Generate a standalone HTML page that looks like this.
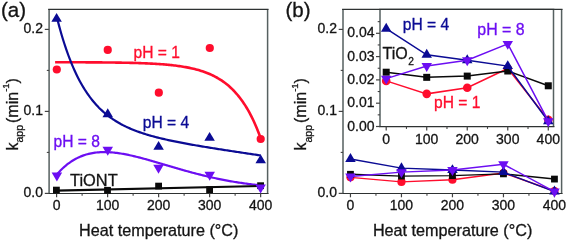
<!DOCTYPE html>
<html><head><meta charset="utf-8"><style>
html,body{margin:0;padding:0;background:#fff;width:567px;height:241px;overflow:hidden}
svg{display:block;will-change:transform}
text{font-family:"Liberation Sans", sans-serif;stroke-width:0.3px}
</style></head><body>
<svg width="567" height="241" viewBox="0 0 567 241">
<path d="M49.1,8.9 V194 M267.6,8.9 V194" stroke="#566060" stroke-width="1.5" fill="none"/>
<path d="M48.2,9.4 H268.5 M48.2,193.5 H268.5" stroke="#2e3232" stroke-width="1.2" fill="none"/>
<line x1="44.800000000000004" y1="193.4" x2="49.1" y2="193.4" stroke="#424242" stroke-width="1.2"/>
<text x="43" y="197.4" font-size="14" text-anchor="end" fill="#141414" stroke="#141414" >0.0</text>
<line x1="44.800000000000004" y1="111.4" x2="49.1" y2="111.4" stroke="#424242" stroke-width="1.2"/>
<text x="43" y="115.4" font-size="14" text-anchor="end" fill="#141414" stroke="#141414" >0.1</text>
<line x1="44.800000000000004" y1="29.4" x2="49.1" y2="29.4" stroke="#424242" stroke-width="1.2"/>
<text x="43" y="33.4" font-size="14" text-anchor="end" fill="#141414" stroke="#141414" >0.2</text>
<line x1="46.800000000000004" y1="152.4" x2="49.1" y2="152.4" stroke="#424242" stroke-width="1.1"/>
<line x1="46.800000000000004" y1="70.4" x2="49.1" y2="70.4" stroke="#424242" stroke-width="1.1"/>
<line x1="56.6" y1="193.5" x2="56.6" y2="197.3" stroke="#424242" stroke-width="1.2"/>
<text x="56.6" y="210.3" font-size="14" text-anchor="middle" fill="#141414" stroke="#141414" >0</text>
<line x1="107.61" y1="193.5" x2="107.61" y2="197.3" stroke="#424242" stroke-width="1.2"/>
<text x="107.61" y="210.3" font-size="14" text-anchor="middle" fill="#141414" stroke="#141414" >100</text>
<line x1="158.62" y1="193.5" x2="158.62" y2="197.3" stroke="#424242" stroke-width="1.2"/>
<text x="158.62" y="210.3" font-size="14" text-anchor="middle" fill="#141414" stroke="#141414" >200</text>
<line x1="209.63" y1="193.5" x2="209.63" y2="197.3" stroke="#424242" stroke-width="1.2"/>
<text x="209.63" y="210.3" font-size="14" text-anchor="middle" fill="#141414" stroke="#141414" >300</text>
<line x1="260.64" y1="193.5" x2="260.64" y2="197.3" stroke="#424242" stroke-width="1.2"/>
<text x="260.64" y="210.3" font-size="14" text-anchor="middle" fill="#141414" stroke="#141414" >400</text>
<line x1="82.11" y1="193.5" x2="82.11" y2="195.8" stroke="#424242" stroke-width="1.1"/>
<line x1="133.12" y1="193.5" x2="133.12" y2="195.8" stroke="#424242" stroke-width="1.1"/>
<line x1="184.12" y1="193.5" x2="184.12" y2="195.8" stroke="#424242" stroke-width="1.1"/>
<line x1="235.13" y1="193.5" x2="235.13" y2="195.8" stroke="#424242" stroke-width="1.1"/>
<text x="158.7" y="236.2" font-size="16.2" text-anchor="middle" fill="#141414" stroke="#141414" >Heat temperature (°C)</text>
<text x="1" y="17.2" font-size="20.5" text-anchor="start" fill="#141414" stroke="#141414" >(a)</text>
<text transform="translate(17.8,150.5) rotate(-90)" font-size="16" fill="#141414" stroke="#141414">k<tspan font-size="10.5" dy="5.5">app</tspan><tspan dy="-5.5" dx="2">(min</tspan><tspan font-size="9.5" dy="-8.5">-1</tspan><tspan dy="8.5">)</tspan></text>
<path d="M55.1,62.24 L56.39,62.24 L57.69,62.24 L58.98,62.24 L60.27,62.24 L61.57,62.25 L62.86,62.25 L64.15,62.25 L65.44,62.26 L66.74,62.26 L68.03,62.26 L69.32,62.26 L70.62,62.27 L71.91,62.27 L73.2,62.28 L74.5,62.28 L75.79,62.28 L77.08,62.29 L78.38,62.29 L79.67,62.3 L80.96,62.3 L82.25,62.31 L83.55,62.31 L84.84,62.32 L86.13,62.33 L87.43,62.33 L88.72,62.34 L90.01,62.34 L91.31,62.35 L92.6,62.36 L93.89,62.37 L95.19,62.38 L96.48,62.39 L97.77,62.39 L99.06,62.4 L100.36,62.41 L101.65,62.42 L102.94,62.44 L104.24,62.45 L105.53,62.46 L106.82,62.47 L108.12,62.49 L109.41,62.5 L110.7,62.52 L112,62.53 L113.29,62.55 L114.58,62.56 L115.87,62.58 L117.17,62.6 L118.46,62.62 L119.75,62.64 L121.05,62.66 L122.34,62.68 L123.63,62.71 L124.93,62.73 L126.22,62.76 L127.51,62.79 L128.81,62.82 L130.1,62.85 L131.39,62.88 L132.68,62.91 L133.98,62.94 L135.27,62.98 L136.56,63.02 L137.86,63.06 L139.15,63.1 L140.44,63.14 L141.74,63.19 L143.03,63.24 L144.32,63.29 L145.62,63.34 L146.91,63.4 L148.2,63.45 L149.49,63.51 L150.79,63.58 L152.08,63.65 L153.37,63.72 L154.67,63.79 L155.96,63.87 L157.25,63.95 L158.55,64.03 L159.84,64.12 L161.13,64.21 L162.43,64.31 L163.72,64.41 L165.01,64.52 L166.31,64.63 L167.6,64.75 L168.89,64.87 L170.18,65 L171.48,65.14 L172.77,65.28 L174.06,65.43 L175.36,65.58 L176.65,65.75 L177.94,65.92 L179.24,66.1 L180.53,66.29 L181.82,66.48 L183.12,66.69 L184.41,66.91 L185.7,67.14 L186.99,67.37 L188.29,67.63 L189.58,67.89 L190.87,68.16 L192.17,68.45 L193.46,68.75 L194.75,69.07 L196.05,69.4 L197.34,69.75 L198.63,70.11 L199.93,70.49 L201.22,70.9 L202.51,71.31 L203.8,71.76 L205.1,72.22 L206.39,72.7 L207.68,73.21 L208.98,73.74 L210.27,74.3 L211.56,74.88 L212.86,75.49 L214.15,76.13 L215.44,76.81 L216.74,77.51 L218.03,78.25 L219.32,79.03 L220.61,79.84 L221.91,80.69 L223.2,81.58 L224.49,82.52 L225.79,83.5 L227.08,84.53 L228.37,85.6 L229.67,86.73 L230.96,87.92 L232.25,89.16 L233.55,90.46 L234.84,91.83 L236.13,93.26 L237.42,94.75 L238.72,96.33 L240.01,97.97 L241.3,99.7 L242.6,101.51 L243.89,103.41 L245.18,105.4 L246.48,107.48 L247.77,109.67 L249.06,111.96 L250.36,114.36 L251.65,116.88 L252.94,119.52 L254.23,122.28 L255.53,125.18 L256.82,128.22 L258.11,131.41 L259.41,134.75 L260.7,138.25" fill="none" stroke="#ff0d2d" stroke-width="2.6"/>
<path d="M56.6,16.19 L57.88,21.26 L59.17,26.11 L60.45,30.75 L61.73,35.2 L63.02,39.45 L64.3,43.53 L65.59,47.43 L66.87,51.17 L68.15,54.75 L69.44,58.17 L70.72,61.46 L72,64.61 L73.29,67.62 L74.57,70.51 L75.85,73.28 L77.14,75.93 L78.42,78.48 L79.71,80.92 L80.99,83.26 L82.27,85.5 L83.56,87.65 L84.84,89.72 L86.12,91.7 L87.41,93.6 L88.69,95.42 L89.97,97.18 L91.26,98.86 L92.54,100.47 L93.83,102.03 L95.11,103.52 L96.39,104.95 L97.68,106.33 L98.96,107.66 L100.24,108.93 L101.53,110.16 L102.81,111.34 L104.09,112.47 L105.38,113.56 L106.66,114.62 L107.95,115.63 L109.23,116.61 L110.51,117.55 L111.8,118.46 L113.08,119.34 L114.36,120.18 L115.65,121 L116.93,121.79 L118.22,122.55 L119.5,123.28 L120.78,124 L122.07,124.68 L123.35,125.35 L124.63,125.99 L125.92,126.62 L127.2,127.22 L128.48,127.81 L129.77,128.38 L131.05,128.93 L132.34,129.46 L133.62,129.98 L134.9,130.48 L136.19,130.97 L137.47,131.45 L138.75,131.91 L140.04,132.37 L141.32,132.81 L142.6,133.23 L143.89,133.65 L145.17,134.06 L146.46,134.46 L147.74,134.84 L149.02,135.22 L150.31,135.59 L151.59,135.95 L152.87,136.31 L154.16,136.65 L155.44,136.99 L156.72,137.33 L158.01,137.65 L159.29,137.97 L160.58,138.29 L161.86,138.59 L163.14,138.9 L164.43,139.19 L165.71,139.49 L166.99,139.77 L168.28,140.06 L169.56,140.34 L170.84,140.61 L172.13,140.88 L173.41,141.15 L174.7,141.41 L175.98,141.67 L177.26,141.93 L178.55,142.18 L179.83,142.43 L181.11,142.68 L182.4,142.92 L183.68,143.17 L184.96,143.41 L186.25,143.64 L187.53,143.88 L188.82,144.11 L190.1,144.34 L191.38,144.57 L192.67,144.8 L193.95,145.02 L195.23,145.25 L196.52,145.47 L197.8,145.69 L199.08,145.91 L200.37,146.12 L201.65,146.34 L202.94,146.55 L204.22,146.77 L205.5,146.98 L206.79,147.19 L208.07,147.4 L209.35,147.61 L210.64,147.81 L211.92,148.02 L213.21,148.23 L214.49,148.43 L215.77,148.63 L217.06,148.84 L218.34,149.04 L219.62,149.24 L220.91,149.44 L222.19,149.64 L223.47,149.84 L224.76,150.04 L226.04,150.24 L227.33,150.44 L228.61,150.63 L229.89,150.83 L231.18,151.03 L232.46,151.22 L233.74,151.42 L235.03,151.61 L236.31,151.81 L237.59,152 L238.88,152.2 L240.16,152.39 L241.45,152.58 L242.73,152.78 L244.01,152.97 L245.3,153.16 L246.58,153.35 L247.86,153.55 L249.15,153.74 L250.43,153.93 L251.71,154.12 L253,154.31 L254.28,154.5 L255.57,154.69 L256.85,154.88 L258.13,155.07 L259.42,155.26 L260.7,155.45" fill="none" stroke="#0b0b94" stroke-width="2.2"/>
<path d="M56.6,174.79 L57.88,173.31 L59.17,171.9 L60.45,170.56 L61.73,169.28 L63.02,168.05 L64.3,166.89 L65.58,165.78 L66.86,164.73 L68.15,163.73 L69.43,162.78 L70.71,161.89 L72,161.04 L73.28,160.24 L74.56,159.48 L75.85,158.78 L77.13,158.11 L78.41,157.49 L79.69,156.9 L80.98,156.36 L82.26,155.86 L83.54,155.39 L84.83,154.96 L86.11,154.56 L87.39,154.2 L88.68,153.87 L89.96,153.57 L91.24,153.3 L92.52,153.06 L93.81,152.85 L95.09,152.67 L96.37,152.51 L97.66,152.38 L98.94,152.28 L100.22,152.2 L101.51,152.14 L102.79,152.1 L104.07,152.09 L105.35,152.09 L106.64,152.12 L107.92,152.16 L109.2,152.23 L110.49,152.31 L111.77,152.41 L113.05,152.52 L114.34,152.65 L115.62,152.8 L116.9,152.96 L118.18,153.13 L119.47,153.32 L120.75,153.52 L122.03,153.73 L123.32,153.95 L124.6,154.19 L125.88,154.43 L127.17,154.69 L128.45,154.95 L129.73,155.22 L131.02,155.51 L132.3,155.8 L133.58,156.09 L134.86,156.4 L136.15,156.71 L137.43,157.03 L138.71,157.36 L140,157.69 L141.28,158.02 L142.56,158.36 L143.85,158.71 L145.13,159.06 L146.41,159.41 L147.69,159.77 L148.98,160.13 L150.26,160.49 L151.54,160.86 L152.83,161.23 L154.11,161.6 L155.39,161.97 L156.68,162.35 L157.96,162.72 L159.24,163.1 L160.52,163.48 L161.81,163.86 L163.09,164.24 L164.37,164.62 L165.66,165 L166.94,165.38 L168.22,165.76 L169.51,166.14 L170.79,166.52 L172.07,166.89 L173.35,167.27 L174.64,167.65 L175.92,168.02 L177.2,168.39 L178.49,168.76 L179.77,169.13 L181.05,169.5 L182.34,169.86 L183.62,170.23 L184.9,170.59 L186.18,170.94 L187.47,171.3 L188.75,171.65 L190.03,172 L191.32,172.35 L192.6,172.69 L193.88,173.04 L195.17,173.37 L196.45,173.71 L197.73,174.04 L199.02,174.37 L200.3,174.69 L201.58,175.01 L202.86,175.33 L204.15,175.64 L205.43,175.95 L206.71,176.26 L208,176.56 L209.28,176.86 L210.56,177.16 L211.85,177.45 L213.13,177.73 L214.41,178.02 L215.69,178.3 L216.98,178.57 L218.26,178.84 L219.54,179.11 L220.83,179.37 L222.11,179.62 L223.39,179.88 L224.68,180.13 L225.96,180.37 L227.24,180.61 L228.52,180.85 L229.81,181.08 L231.09,181.3 L232.37,181.53 L233.66,181.74 L234.94,181.96 L236.22,182.17 L237.51,182.37 L238.79,182.57 L240.07,182.77 L241.35,182.96 L242.64,183.14 L243.92,183.32 L245.2,183.5 L246.49,183.67 L247.77,183.84 L249.05,184.01 L250.34,184.16 L251.62,184.32 L252.9,184.47 L254.18,184.62 L255.47,184.76 L256.75,184.89 L258.03,185.03 L259.32,185.15 L260.6,185.28" fill="none" stroke="#6c0ef2" stroke-width="2.2"/>
<path d="M56.4,190.6 L260.6,186" fill="none" stroke="#0a0a0a" stroke-width="2.2"/>
<circle cx="56.8" cy="69.5" r="4.1" fill="#ff0d2d"/>
<circle cx="107.75" cy="49.95" r="4.1" fill="#ff0d2d"/>
<circle cx="158.8" cy="92.7" r="4.1" fill="#ff0d2d"/>
<circle cx="209.8" cy="48" r="4.1" fill="#ff0d2d"/>
<circle cx="260.7" cy="139" r="4.1" fill="#ff0d2d"/>
<rect x="53" y="186.7" width="6.8" height="6.8" fill="#0a0a0a"/>
<rect x="104.1" y="186.9" width="6.8" height="6.8" fill="#0a0a0a"/>
<rect x="155.2" y="182.7" width="6.8" height="6.8" fill="#0a0a0a"/>
<rect x="206.2" y="186.2" width="6.8" height="6.8" fill="#0a0a0a"/>
<rect x="257.2" y="182.3" width="6.8" height="6.8" fill="#0a0a0a"/>
<path d="M51.35,21.87 L61.85,21.87 L56.6,12.97Z" fill="#0b0b94"/>
<path d="M102.5,117.17 L113,117.17 L107.75,108.27Z" fill="#0b0b94"/>
<path d="M153.35,149.87 L163.85,149.87 L158.6,140.97Z" fill="#0b0b94"/>
<path d="M204.35,140.87 L214.85,140.87 L209.6,131.97Z" fill="#0b0b94"/>
<path d="M255.45,163.37 L265.95,163.37 L260.7,154.47Z" fill="#0b0b94"/>
<path d="M51.65,172.53 L62.15,172.53 L56.9,181.43Z" fill="#6c0ef2"/>
<path d="M102.5,146.83 L113,146.83 L107.75,155.73Z" fill="#6c0ef2"/>
<path d="M153.25,164.83 L163.75,164.83 L158.5,173.73Z" fill="#6c0ef2"/>
<path d="M204.45,171.83 L214.95,171.83 L209.7,180.73Z" fill="#6c0ef2"/>
<path d="M255.35,184.53 L265.85,184.53 L260.6,193.43Z" fill="#6c0ef2"/>
<text x="133.6" y="57.5" font-size="15.6" text-anchor="start" fill="#ff0d2d" stroke="#ff0d2d" >pH = 1</text>
<text x="142.8" y="128.4" font-size="15.6" text-anchor="start" fill="#0b0b94" stroke="#0b0b94" >pH = 4</text>
<text x="53.6" y="146.9" font-size="15.6" text-anchor="start" fill="#6c0ef2" stroke="#6c0ef2" >pH = 8</text>
<text x="70" y="186.3" font-size="16.4" text-anchor="start" fill="#141414" stroke="#141414" >TiONT</text>
<path d="M343,8.9 V194 M561.6,8.9 V194" stroke="#566060" stroke-width="1.5" fill="none"/>
<path d="M342.1,9.4 H562.5 M342.1,193.5 H562.5" stroke="#2e3232" stroke-width="1.2" fill="none"/>
<line x1="338.7" y1="193.4" x2="343" y2="193.4" stroke="#424242" stroke-width="1.2"/>
<text x="337" y="197.4" font-size="14" text-anchor="end" fill="#141414" stroke="#141414" >0.0</text>
<line x1="338.7" y1="111.4" x2="343" y2="111.4" stroke="#424242" stroke-width="1.2"/>
<text x="337" y="115.4" font-size="14" text-anchor="end" fill="#141414" stroke="#141414" >0.1</text>
<line x1="338.7" y1="29.4" x2="343" y2="29.4" stroke="#424242" stroke-width="1.2"/>
<text x="337" y="33.4" font-size="14" text-anchor="end" fill="#141414" stroke="#141414" >0.2</text>
<line x1="340.7" y1="152.4" x2="343" y2="152.4" stroke="#424242" stroke-width="1.1"/>
<line x1="340.7" y1="70.4" x2="343" y2="70.4" stroke="#424242" stroke-width="1.1"/>
<line x1="350.45" y1="193.5" x2="350.45" y2="197.3" stroke="#424242" stroke-width="1.2"/>
<text x="350.45" y="210.3" font-size="14" text-anchor="middle" fill="#141414" stroke="#141414" >0</text>
<line x1="401.45" y1="193.5" x2="401.45" y2="197.3" stroke="#424242" stroke-width="1.2"/>
<text x="401.45" y="210.3" font-size="14" text-anchor="middle" fill="#141414" stroke="#141414" >100</text>
<line x1="452.45" y1="193.5" x2="452.45" y2="197.3" stroke="#424242" stroke-width="1.2"/>
<text x="452.45" y="210.3" font-size="14" text-anchor="middle" fill="#141414" stroke="#141414" >200</text>
<line x1="503.45" y1="193.5" x2="503.45" y2="197.3" stroke="#424242" stroke-width="1.2"/>
<text x="503.45" y="210.3" font-size="14" text-anchor="middle" fill="#141414" stroke="#141414" >300</text>
<line x1="554.45" y1="193.5" x2="554.45" y2="197.3" stroke="#424242" stroke-width="1.2"/>
<text x="554.45" y="210.3" font-size="14" text-anchor="middle" fill="#141414" stroke="#141414" >400</text>
<line x1="375.95" y1="193.5" x2="375.95" y2="195.8" stroke="#424242" stroke-width="1.1"/>
<line x1="426.95" y1="193.5" x2="426.95" y2="195.8" stroke="#424242" stroke-width="1.1"/>
<line x1="477.95" y1="193.5" x2="477.95" y2="195.8" stroke="#424242" stroke-width="1.1"/>
<line x1="528.95" y1="193.5" x2="528.95" y2="195.8" stroke="#424242" stroke-width="1.1"/>
<text x="452.6" y="236.2" font-size="16.2" text-anchor="middle" fill="#141414" stroke="#141414" >Heat temperature (°C)</text>
<text x="285.5" y="17.2" font-size="20.5" text-anchor="start" fill="#141414" stroke="#141414" >(b)</text>
<text transform="translate(306,150.5) rotate(-90)" font-size="16" fill="#141414" stroke="#141414">k<tspan font-size="10.5" dy="5.5">app</tspan><tspan dy="-5.5" dx="2">(min</tspan><tspan font-size="9.5" dy="-8.5">-1</tspan><tspan dy="8.5">)</tspan></text>
<path d="M350.45,177.35 L401.45,181.91 L452.45,179.76 L503.45,172.98 L554.45,191.02" fill="none" stroke="#ff0d2d" stroke-width="1.4"/>
<circle cx="350.45" cy="177.35" r="4.1" fill="#ff0d2d"/>
<circle cx="401.45" cy="181.91" r="4.1" fill="#ff0d2d"/>
<circle cx="452.45" cy="179.76" r="4.1" fill="#ff0d2d"/>
<circle cx="503.45" cy="172.98" r="4.1" fill="#ff0d2d"/>
<circle cx="554.45" cy="191.02" r="4.1" fill="#ff0d2d"/>
<path d="M350.45,174.29 L401.45,176.1 L452.45,175.66 L503.45,173.87 L554.45,179.07" fill="none" stroke="#0a0a0a" stroke-width="1.4"/>
<rect x="347.05" y="170.89" width="6.8" height="6.8" fill="#0a0a0a"/>
<rect x="398.05" y="172.7" width="6.8" height="6.8" fill="#0a0a0a"/>
<rect x="449.05" y="172.26" width="6.8" height="6.8" fill="#0a0a0a"/>
<rect x="500.05" y="170.47" width="6.8" height="6.8" fill="#0a0a0a"/>
<rect x="551.05" y="175.67" width="6.8" height="6.8" fill="#0a0a0a"/>
<path d="M350.45,158.98 L401.45,168.17 L452.45,170.07 L503.45,172.15 L554.45,191.54" fill="none" stroke="#0b0b94" stroke-width="1.4"/>
<path d="M345.2,161.95 L355.7,161.95 L350.45,153.05Z" fill="#0b0b94"/>
<path d="M396.2,171.14 L406.7,171.14 L401.45,162.24Z" fill="#0b0b94"/>
<path d="M447.2,173.04 L457.7,173.04 L452.45,164.14Z" fill="#0b0b94"/>
<path d="M498.2,175.11 L508.7,175.11 L503.45,166.21Z" fill="#0b0b94"/>
<path d="M549.2,194.51 L559.7,194.51 L554.45,185.61Z" fill="#0b0b94"/>
<path d="M350.45,176.54 L401.45,172.1 L452.45,170.07 L503.45,164.33 L554.45,191.54" fill="none" stroke="#6c0ef2" stroke-width="1.4"/>
<path d="M345.2,173.57 L355.7,173.57 L350.45,182.47Z" fill="#6c0ef2"/>
<path d="M396.2,169.14 L406.7,169.14 L401.45,178.04Z" fill="#6c0ef2"/>
<path d="M447.2,167.1 L457.7,167.1 L452.45,176Z" fill="#6c0ef2"/>
<path d="M498.2,161.36 L508.7,161.36 L503.45,170.26Z" fill="#6c0ef2"/>
<path d="M549.2,188.57 L559.7,188.57 L554.45,197.47Z" fill="#6c0ef2"/>
<rect x="380" y="9.4" width="173.5" height="117.2" fill="#fff"/>
<path d="M380,8.9 V127.1 M553.5,8.9 V127.1" stroke="#566060" stroke-width="1.5" fill="none"/>
<path d="M379.1,9.4 H554.4 M379.1,126.6 H554.4" stroke="#2e3232" stroke-width="1.2" fill="none"/>
<line x1="376" y1="126.5" x2="380" y2="126.5" stroke="#424242" stroke-width="1.2"/>
<text x="374.5" y="130.5" font-size="14" text-anchor="end" fill="#141414" stroke="#141414" >0.00</text>
<line x1="376" y1="103.2" x2="380" y2="103.2" stroke="#424242" stroke-width="1.2"/>
<text x="374.5" y="107.2" font-size="14" text-anchor="end" fill="#141414" stroke="#141414" >0.01</text>
<line x1="376" y1="79.9" x2="380" y2="79.9" stroke="#424242" stroke-width="1.2"/>
<text x="374.5" y="83.9" font-size="14" text-anchor="end" fill="#141414" stroke="#141414" >0.02</text>
<line x1="376" y1="56.6" x2="380" y2="56.6" stroke="#424242" stroke-width="1.2"/>
<text x="374.5" y="60.6" font-size="14" text-anchor="end" fill="#141414" stroke="#141414" >0.03</text>
<line x1="376" y1="33.3" x2="380" y2="33.3" stroke="#424242" stroke-width="1.2"/>
<text x="374.5" y="37.3" font-size="14" text-anchor="end" fill="#141414" stroke="#141414" >0.04</text>
<line x1="377.7" y1="114.85" x2="380" y2="114.85" stroke="#424242" stroke-width="1.1"/>
<line x1="377.7" y1="91.55" x2="380" y2="91.55" stroke="#424242" stroke-width="1.1"/>
<line x1="377.7" y1="68.25" x2="380" y2="68.25" stroke="#424242" stroke-width="1.1"/>
<line x1="377.7" y1="44.95" x2="380" y2="44.95" stroke="#424242" stroke-width="1.1"/>
<line x1="377.7" y1="21.65" x2="380" y2="21.65" stroke="#424242" stroke-width="1.1"/>
<line x1="386.2" y1="126.6" x2="386.2" y2="130.4" stroke="#424242" stroke-width="1.2"/>
<text x="386.2" y="143.7" font-size="14" text-anchor="middle" fill="#141414" stroke="#141414" >0</text>
<line x1="426.72" y1="126.6" x2="426.72" y2="130.4" stroke="#424242" stroke-width="1.2"/>
<text x="426.72" y="143.7" font-size="14" text-anchor="middle" fill="#141414" stroke="#141414" >100</text>
<line x1="467.24" y1="126.6" x2="467.24" y2="130.4" stroke="#424242" stroke-width="1.2"/>
<text x="467.24" y="143.7" font-size="14" text-anchor="middle" fill="#141414" stroke="#141414" >200</text>
<line x1="507.76" y1="126.6" x2="507.76" y2="130.4" stroke="#424242" stroke-width="1.2"/>
<text x="507.76" y="143.7" font-size="14" text-anchor="middle" fill="#141414" stroke="#141414" >300</text>
<line x1="548.28" y1="126.6" x2="548.28" y2="130.4" stroke="#424242" stroke-width="1.2"/>
<text x="548.28" y="143.7" font-size="14" text-anchor="middle" fill="#141414" stroke="#141414" >400</text>
<line x1="406.46" y1="126.6" x2="406.46" y2="128.9" stroke="#424242" stroke-width="1.1"/>
<line x1="446.98" y1="126.6" x2="446.98" y2="128.9" stroke="#424242" stroke-width="1.1"/>
<line x1="487.5" y1="126.6" x2="487.5" y2="128.9" stroke="#424242" stroke-width="1.1"/>
<line x1="528.02" y1="126.6" x2="528.02" y2="128.9" stroke="#424242" stroke-width="1.1"/>
<path d="M386.2,80.9 L426.72,93.86 L467.24,87.75 L507.76,68.48 L548.28,119.74" fill="none" stroke="#ff0d2d" stroke-width="1.5"/>
<circle cx="386.2" cy="80.9" r="4.3" fill="#ff0d2d"/>
<circle cx="426.72" cy="93.86" r="4.3" fill="#ff0d2d"/>
<circle cx="467.24" cy="87.75" r="4.3" fill="#ff0d2d"/>
<circle cx="507.76" cy="68.48" r="4.3" fill="#ff0d2d"/>
<circle cx="548.28" cy="119.74" r="4.3" fill="#ff0d2d"/>
<path d="M386.2,72.21 L426.72,77.34 L467.24,76.1 L507.76,71 L548.28,85.79" fill="none" stroke="#0a0a0a" stroke-width="1.5"/>
<rect x="382.7" y="68.71" width="7.0" height="7.0" fill="#0a0a0a"/>
<rect x="423.22" y="73.84" width="7.0" height="7.0" fill="#0a0a0a"/>
<rect x="463.74" y="72.6" width="7.0" height="7.0" fill="#0a0a0a"/>
<rect x="504.26" y="67.5" width="7.0" height="7.0" fill="#0a0a0a"/>
<rect x="544.78" y="82.29" width="7.0" height="7.0" fill="#0a0a0a"/>
<path d="M386.2,28.71 L426.72,54.81 L467.24,60.21 L507.76,66.11 L548.28,121.21" fill="none" stroke="#0b0b94" stroke-width="1.5"/>
<path d="M380.95,31.68 L391.45,31.68 L386.2,22.78Z" fill="#0b0b94"/>
<path d="M421.47,57.77 L431.97,57.77 L426.72,48.87Z" fill="#0b0b94"/>
<path d="M461.99,63.18 L472.49,63.18 L467.24,54.28Z" fill="#0b0b94"/>
<path d="M502.51,69.07 L513.01,69.07 L507.76,60.17Z" fill="#0b0b94"/>
<path d="M543.03,124.18 L553.53,124.18 L548.28,115.28Z" fill="#0b0b94"/>
<path d="M386.2,78.6 L426.72,65.99 L467.24,60.21 L507.76,43.9 L548.28,121.21" fill="none" stroke="#6c0ef2" stroke-width="1.5"/>
<path d="M380.95,75.63 L391.45,75.63 L386.2,84.53Z" fill="#6c0ef2"/>
<path d="M421.47,63.02 L431.97,63.02 L426.72,71.92Z" fill="#6c0ef2"/>
<path d="M461.99,57.24 L472.49,57.24 L467.24,66.14Z" fill="#6c0ef2"/>
<path d="M502.51,40.93 L513.01,40.93 L507.76,49.83Z" fill="#6c0ef2"/>
<path d="M543.03,118.24 L553.53,118.24 L548.28,127.14Z" fill="#6c0ef2"/>
<text x="402.8" y="30.4" font-size="15.6" text-anchor="start" fill="#0b0b94" stroke="#0b0b94" >pH = 4</text>
<text x="477.3" y="34.8" font-size="15.9" text-anchor="start" fill="#6c0ef2" stroke="#6c0ef2" >pH = 8</text>
<text x="434" y="108.3" font-size="15.6" text-anchor="start" fill="#ff0d2d" stroke="#ff0d2d" >pH = 1</text>
<text x="382.6" y="58.6" font-size="16" fill="#141414" stroke="#141414">TiO<tspan font-size="10.2" dy="6.1" dx="0.4">2</tspan></text>
</svg>
</body></html>
